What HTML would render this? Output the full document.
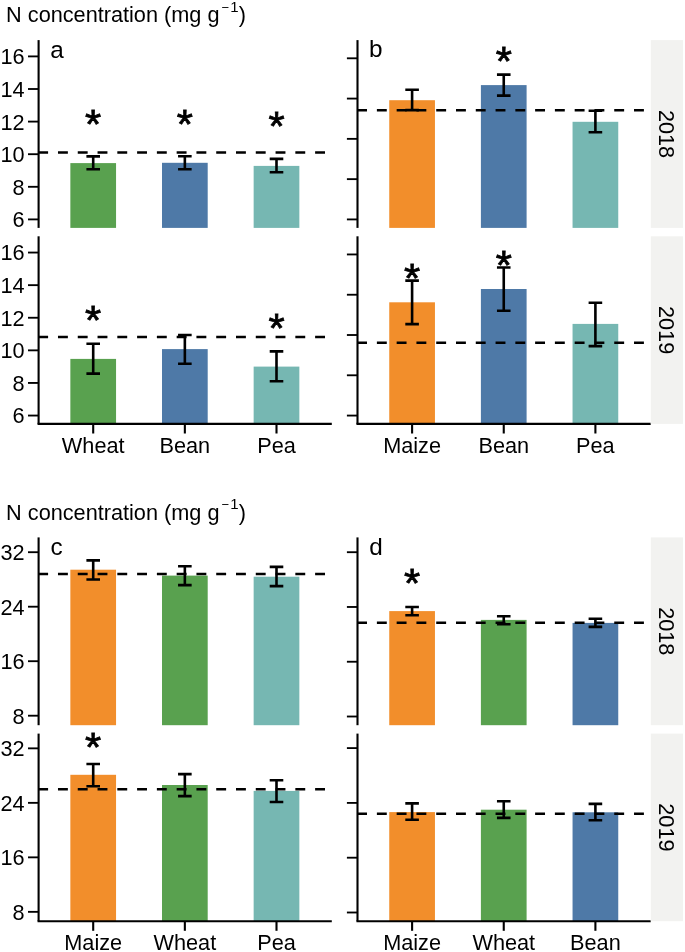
<!DOCTYPE html>
<html><head><meta charset="utf-8"><title>N concentration</title>
<style>
html,body{margin:0;padding:0;background:#fff}
svg{display:block}
text{font-family:"Liberation Sans", Arial, Helvetica, sans-serif;fill:#000}
</style></head><body>
<svg width="685" height="952" viewBox="0 0 685 952">
<rect width="685" height="952" fill="#fff"/>
<g>
<text x="6.1" y="22.4" font-size="21.7">N concentration (mg g<tspan x="221.4" y="11.8" font-size="13">−</tspan><tspan x="230.2" y="11.8" font-size="15">1</tspan><tspan x="238.7" y="22.4">)</tspan></text>
<rect x="70.35" y="163.1" width="45.7" height="64.8" fill="#59a14f"/>
<rect x="162" y="162.8" width="45.7" height="65.1" fill="#4e79a7"/>
<rect x="253.65" y="165.9" width="45.7" height="62" fill="#76b7b2"/>
<line x1="38.6" y1="152.4" x2="330.8" y2="152.4" stroke="#000" stroke-width="2.5" stroke-dasharray="9.89 9.89" stroke-dashoffset="0.4"/>
<path d="M86.4 156.4H100M93.2 156.4V169.3M86.4 169.3H100" stroke="#000" stroke-width="2.6" fill="none"/>
<path d="M178.05 156.2H191.65M184.85 156.2V169.2M178.05 169.2H191.65" stroke="#000" stroke-width="2.6" fill="none"/>
<path d="M269.7 158.9H283.3M276.5 158.9V172.2M269.7 172.2H283.3" stroke="#000" stroke-width="2.6" fill="none"/>
<line x1="38.6" y1="40.1" x2="38.6" y2="227.9" stroke="#000" stroke-width="2.1"/>
<line x1="28" y1="56.4" x2="38.6" y2="56.4" stroke="#000" stroke-width="1.85"/>
<text transform="translate(24.6 64.3) scale(1 1.035)" font-size="21.7" text-anchor="end">16</text>
<line x1="28" y1="89" x2="38.6" y2="89" stroke="#000" stroke-width="1.85"/>
<text transform="translate(24.6 96.9) scale(1 1.035)" font-size="21.7" text-anchor="end">14</text>
<line x1="28" y1="121.6" x2="38.6" y2="121.6" stroke="#000" stroke-width="1.85"/>
<text transform="translate(24.6 129.5) scale(1 1.035)" font-size="21.7" text-anchor="end">12</text>
<line x1="28" y1="154.2" x2="38.6" y2="154.2" stroke="#000" stroke-width="1.85"/>
<text transform="translate(24.6 162.1) scale(1 1.035)" font-size="21.7" text-anchor="end">10</text>
<line x1="28" y1="186.8" x2="38.6" y2="186.8" stroke="#000" stroke-width="1.85"/>
<text transform="translate(24.6 194.7) scale(1 1.035)" font-size="21.7" text-anchor="end">8</text>
<line x1="28" y1="219.4" x2="38.6" y2="219.4" stroke="#000" stroke-width="1.85"/>
<text transform="translate(24.6 227.3) scale(1 1.035)" font-size="21.7" text-anchor="end">6</text>
<text x="93.2" y="137.63" font-size="41.5" text-anchor="middle" stroke="#000" stroke-width="0.8">*</text>
<text x="184.85" y="137.63" font-size="41.5" text-anchor="middle" stroke="#000" stroke-width="0.8">*</text>
<text x="276.5" y="140.43" font-size="41.5" text-anchor="middle" stroke="#000" stroke-width="0.8">*</text>
<text x="50.3" y="57.6" font-size="24.3">a</text>
<rect x="389.25" y="100.2" width="45.7" height="127.7" fill="#f28e2b"/>
<rect x="480.9" y="85.1" width="45.7" height="142.8" fill="#4e79a7"/>
<rect x="572.55" y="121.8" width="45.7" height="106.1" fill="#76b7b2"/>
<line x1="357.5" y1="110.3" x2="649.7" y2="110.3" stroke="#000" stroke-width="2.5" stroke-dasharray="9.89 9.89" stroke-dashoffset="0.4"/>
<path d="M405.3 89.7H418.9M412.1 89.7V110.1M405.3 110.1H418.9" stroke="#000" stroke-width="2.6" fill="none"/>
<path d="M496.95 74.6H510.55M503.75 74.6V95.6M496.95 95.6H510.55" stroke="#000" stroke-width="2.6" fill="none"/>
<path d="M588.6 110.8H602.2M595.4 110.8V132.3M588.6 132.3H602.2" stroke="#000" stroke-width="2.6" fill="none"/>
<line x1="357.5" y1="40.1" x2="357.5" y2="227.9" stroke="#000" stroke-width="2.1"/>
<line x1="346.9" y1="58.3" x2="357.5" y2="58.3" stroke="#000" stroke-width="1.85"/>
<line x1="346.9" y1="98.58" x2="357.5" y2="98.58" stroke="#000" stroke-width="1.85"/>
<line x1="346.9" y1="138.86" x2="357.5" y2="138.86" stroke="#000" stroke-width="1.85"/>
<line x1="346.9" y1="179.14" x2="357.5" y2="179.14" stroke="#000" stroke-width="1.85"/>
<line x1="346.9" y1="219.42" x2="357.5" y2="219.42" stroke="#000" stroke-width="1.85"/>
<text x="503.75" y="75.44" font-size="41.5" text-anchor="middle" stroke="#000" stroke-width="0.8">*</text>
<text x="368.9" y="57.2" font-size="24.3">b</text>
<rect x="650.8" y="40.1" width="32.2" height="187.8" fill="#f2f2f0"/>
<text transform="translate(658.5 134) rotate(90)" font-size="21.7" text-anchor="middle">2018</text>
<rect x="70.35" y="358.9" width="45.7" height="65" fill="#59a14f"/>
<rect x="162" y="349.1" width="45.7" height="74.8" fill="#4e79a7"/>
<rect x="253.65" y="366.6" width="45.7" height="57.3" fill="#76b7b2"/>
<line x1="38.6" y1="337" x2="330.8" y2="337" stroke="#000" stroke-width="2.5" stroke-dasharray="9.89 9.89" stroke-dashoffset="0.4"/>
<path d="M86.4 343.7H100M93.2 343.7V373.6M86.4 373.6H100" stroke="#000" stroke-width="2.6" fill="none"/>
<path d="M178.05 335H191.65M184.85 335V363.8M178.05 363.8H191.65" stroke="#000" stroke-width="2.6" fill="none"/>
<path d="M269.7 351.4H283.3M276.5 351.4V381.3M269.7 381.3H283.3" stroke="#000" stroke-width="2.6" fill="none"/>
<line x1="38.6" y1="236.3" x2="38.6" y2="423.9" stroke="#000" stroke-width="2.1"/>
<line x1="28" y1="252.55" x2="38.6" y2="252.55" stroke="#000" stroke-width="1.85"/>
<text transform="translate(24.6 260.45) scale(1 1.035)" font-size="21.7" text-anchor="end">16</text>
<line x1="28" y1="285.15" x2="38.6" y2="285.15" stroke="#000" stroke-width="1.85"/>
<text transform="translate(24.6 293.05) scale(1 1.035)" font-size="21.7" text-anchor="end">14</text>
<line x1="28" y1="317.75" x2="38.6" y2="317.75" stroke="#000" stroke-width="1.85"/>
<text transform="translate(24.6 325.65) scale(1 1.035)" font-size="21.7" text-anchor="end">12</text>
<line x1="28" y1="350.35" x2="38.6" y2="350.35" stroke="#000" stroke-width="1.85"/>
<text transform="translate(24.6 358.25) scale(1 1.035)" font-size="21.7" text-anchor="end">10</text>
<line x1="28" y1="382.95" x2="38.6" y2="382.95" stroke="#000" stroke-width="1.85"/>
<text transform="translate(24.6 390.85) scale(1 1.035)" font-size="21.7" text-anchor="end">8</text>
<line x1="28" y1="415.55" x2="38.6" y2="415.55" stroke="#000" stroke-width="1.85"/>
<text transform="translate(24.6 423.45) scale(1 1.035)" font-size="21.7" text-anchor="end">6</text>
<text x="93.2" y="333.53" font-size="41.5" text-anchor="middle" stroke="#000" stroke-width="0.8">*</text>
<text x="276.5" y="341.83" font-size="41.5" text-anchor="middle" stroke="#000" stroke-width="0.8">*</text>
<line x1="37.55" y1="423.9" x2="331.8" y2="423.9" stroke="#000" stroke-width="2.1"/>
<line x1="93.2" y1="423.9" x2="93.2" y2="433.5" stroke="#000" stroke-width="2.1"/>
<text x="93.2" y="452.6" font-size="21.7" text-anchor="middle">Wheat</text>
<line x1="184.85" y1="423.9" x2="184.85" y2="433.5" stroke="#000" stroke-width="2.1"/>
<text x="184.85" y="452.6" font-size="21.7" text-anchor="middle">Bean</text>
<line x1="276.5" y1="423.9" x2="276.5" y2="433.5" stroke="#000" stroke-width="2.1"/>
<text x="276.5" y="452.6" font-size="21.7" text-anchor="middle">Pea</text>
<rect x="389.25" y="302.3" width="45.7" height="121.6" fill="#f28e2b"/>
<rect x="480.9" y="289" width="45.7" height="134.9" fill="#4e79a7"/>
<rect x="572.55" y="323.9" width="45.7" height="100" fill="#76b7b2"/>
<line x1="357.5" y1="342.7" x2="649.7" y2="342.7" stroke="#000" stroke-width="2.5" stroke-dasharray="9.89 9.89" stroke-dashoffset="0.4"/>
<path d="M405.3 280.6H418.9M412.1 280.6V324.1M405.3 324.1H418.9" stroke="#000" stroke-width="2.6" fill="none"/>
<path d="M496.95 267.5H510.55M503.75 267.5V310.7M496.95 310.7H510.55" stroke="#000" stroke-width="2.6" fill="none"/>
<path d="M588.6 302.7H602.2M595.4 302.7V346.1M588.6 346.1H602.2" stroke="#000" stroke-width="2.6" fill="none"/>
<line x1="357.5" y1="236.3" x2="357.5" y2="423.9" stroke="#000" stroke-width="2.1"/>
<line x1="346.9" y1="254.45" x2="357.5" y2="254.45" stroke="#000" stroke-width="1.85"/>
<line x1="346.9" y1="294.73" x2="357.5" y2="294.73" stroke="#000" stroke-width="1.85"/>
<line x1="346.9" y1="335.01" x2="357.5" y2="335.01" stroke="#000" stroke-width="1.85"/>
<line x1="346.9" y1="375.29" x2="357.5" y2="375.29" stroke="#000" stroke-width="1.85"/>
<line x1="346.9" y1="415.57" x2="357.5" y2="415.57" stroke="#000" stroke-width="1.85"/>
<text x="412.1" y="291.83" font-size="41.5" text-anchor="middle" stroke="#000" stroke-width="0.8">*</text>
<text x="503.75" y="279.03" font-size="41.5" text-anchor="middle" stroke="#000" stroke-width="0.8">*</text>
<line x1="356.45" y1="423.9" x2="650.7" y2="423.9" stroke="#000" stroke-width="2.1"/>
<line x1="412.1" y1="423.9" x2="412.1" y2="433.5" stroke="#000" stroke-width="2.1"/>
<text x="412.1" y="452.6" font-size="21.7" text-anchor="middle">Maize</text>
<line x1="503.75" y1="423.9" x2="503.75" y2="433.5" stroke="#000" stroke-width="2.1"/>
<text x="503.75" y="452.6" font-size="21.7" text-anchor="middle">Bean</text>
<line x1="595.4" y1="423.9" x2="595.4" y2="433.5" stroke="#000" stroke-width="2.1"/>
<text x="595.4" y="452.6" font-size="21.7" text-anchor="middle">Pea</text>
<rect x="650.8" y="236.3" width="32.2" height="187.6" fill="#f2f2f0"/>
<text transform="translate(658.5 330.1) rotate(90)" font-size="21.7" text-anchor="middle">2019</text>
</g>
<g transform="translate(0 497.3)">
<text x="6.1" y="22.4" font-size="21.7">N concentration (mg g<tspan x="221.4" y="11.8" font-size="13">−</tspan><tspan x="230.2" y="11.8" font-size="15">1</tspan><tspan x="238.7" y="22.4">)</tspan></text>
<rect x="70.35" y="72.4" width="45.7" height="155.5" fill="#f28e2b"/>
<rect x="162" y="78.3" width="45.7" height="149.6" fill="#59a14f"/>
<rect x="253.65" y="79.4" width="45.7" height="148.5" fill="#76b7b2"/>
<line x1="38.6" y1="76.7" x2="330.8" y2="76.7" stroke="#000" stroke-width="2.5" stroke-dasharray="9.89 9.89" stroke-dashoffset="0.4"/>
<path d="M86.4 63.1H100M93.2 63.1V82.2M86.4 82.2H100" stroke="#000" stroke-width="2.6" fill="none"/>
<path d="M178.05 68.9H191.65M184.85 68.9V87.8M178.05 87.8H191.65" stroke="#000" stroke-width="2.6" fill="none"/>
<path d="M269.7 69.6H283.3M276.5 69.6V88.8M269.7 88.8H283.3" stroke="#000" stroke-width="2.6" fill="none"/>
<line x1="38.6" y1="40.1" x2="38.6" y2="227.9" stroke="#000" stroke-width="2.1"/>
<line x1="28" y1="54.9" x2="38.6" y2="54.9" stroke="#000" stroke-width="1.85"/>
<text transform="translate(24.6 62.8) scale(1 1.035)" font-size="21.7" text-anchor="end">32</text>
<line x1="28" y1="109.4" x2="38.6" y2="109.4" stroke="#000" stroke-width="1.85"/>
<text transform="translate(24.6 117.3) scale(1 1.035)" font-size="21.7" text-anchor="end">24</text>
<line x1="28" y1="163.9" x2="38.6" y2="163.9" stroke="#000" stroke-width="1.85"/>
<text transform="translate(24.6 171.8) scale(1 1.035)" font-size="21.7" text-anchor="end">16</text>
<line x1="28" y1="218.4" x2="38.6" y2="218.4" stroke="#000" stroke-width="1.85"/>
<text transform="translate(24.6 226.3) scale(1 1.035)" font-size="21.7" text-anchor="end">8</text>
<text x="50.5" y="57.7" font-size="24.3">c</text>
<rect x="389.25" y="113.8" width="45.7" height="114.1" fill="#f28e2b"/>
<rect x="480.9" y="122.6" width="45.7" height="105.3" fill="#59a14f"/>
<rect x="572.55" y="125.6" width="45.7" height="102.3" fill="#4e79a7"/>
<line x1="357.5" y1="125.4" x2="649.7" y2="125.4" stroke="#000" stroke-width="2.5" stroke-dasharray="9.89 9.89" stroke-dashoffset="0.4"/>
<path d="M405.3 109.7H418.9M412.1 109.7V118M405.3 118H418.9" stroke="#000" stroke-width="2.6" fill="none"/>
<path d="M496.95 118.9H510.55M503.75 118.9V127M496.95 127H510.55" stroke="#000" stroke-width="2.6" fill="none"/>
<path d="M588.6 121.4H602.2M595.4 121.4V129.6M588.6 129.6H602.2" stroke="#000" stroke-width="2.6" fill="none"/>
<line x1="357.5" y1="40.1" x2="357.5" y2="227.9" stroke="#000" stroke-width="2.1"/>
<line x1="346.9" y1="54.9" x2="357.5" y2="54.9" stroke="#000" stroke-width="1.85"/>
<line x1="346.9" y1="109.67" x2="357.5" y2="109.67" stroke="#000" stroke-width="1.85"/>
<line x1="346.9" y1="164.44" x2="357.5" y2="164.44" stroke="#000" stroke-width="1.85"/>
<line x1="346.9" y1="219.21" x2="357.5" y2="219.21" stroke="#000" stroke-width="1.85"/>
<text x="412.1" y="99.64" font-size="41.5" text-anchor="middle" stroke="#000" stroke-width="0.8">*</text>
<text x="369.3" y="57.7" font-size="24.3">d</text>
<rect x="650.8" y="40.1" width="32.2" height="187.8" fill="#f2f2f0"/>
<text transform="translate(658.5 134) rotate(90)" font-size="21.7" text-anchor="middle">2018</text>
<rect x="70.35" y="277.5" width="45.7" height="146.4" fill="#f28e2b"/>
<rect x="162" y="287.7" width="45.7" height="136.2" fill="#59a14f"/>
<rect x="253.65" y="293.6" width="45.7" height="130.3" fill="#76b7b2"/>
<line x1="38.6" y1="291.9" x2="330.8" y2="291.9" stroke="#000" stroke-width="2.5" stroke-dasharray="9.89 9.89" stroke-dashoffset="0.4"/>
<path d="M86.4 266.7H100M93.2 266.7V288.9M86.4 288.9H100" stroke="#000" stroke-width="2.6" fill="none"/>
<path d="M178.05 276.8H191.65M184.85 276.8V298.8M178.05 298.8H191.65" stroke="#000" stroke-width="2.6" fill="none"/>
<path d="M269.7 283H283.3M276.5 283V304.7M269.7 304.7H283.3" stroke="#000" stroke-width="2.6" fill="none"/>
<line x1="38.6" y1="236.3" x2="38.6" y2="423.9" stroke="#000" stroke-width="2.1"/>
<line x1="28" y1="251.05" x2="38.6" y2="251.05" stroke="#000" stroke-width="1.85"/>
<text transform="translate(24.6 258.95) scale(1 1.035)" font-size="21.7" text-anchor="end">32</text>
<line x1="28" y1="305.55" x2="38.6" y2="305.55" stroke="#000" stroke-width="1.85"/>
<text transform="translate(24.6 313.45) scale(1 1.035)" font-size="21.7" text-anchor="end">24</text>
<line x1="28" y1="360.05" x2="38.6" y2="360.05" stroke="#000" stroke-width="1.85"/>
<text transform="translate(24.6 367.95) scale(1 1.035)" font-size="21.7" text-anchor="end">16</text>
<line x1="28" y1="414.55" x2="38.6" y2="414.55" stroke="#000" stroke-width="1.85"/>
<text transform="translate(24.6 422.45) scale(1 1.035)" font-size="21.7" text-anchor="end">8</text>
<text x="93.2" y="263.74" font-size="41.5" text-anchor="middle" stroke="#000" stroke-width="0.8">*</text>
<line x1="37.55" y1="423.9" x2="331.8" y2="423.9" stroke="#000" stroke-width="2.1"/>
<line x1="93.2" y1="423.9" x2="93.2" y2="433.5" stroke="#000" stroke-width="2.1"/>
<text x="93.2" y="452.6" font-size="21.7" text-anchor="middle">Maize</text>
<line x1="184.85" y1="423.9" x2="184.85" y2="433.5" stroke="#000" stroke-width="2.1"/>
<text x="184.85" y="452.6" font-size="21.7" text-anchor="middle">Wheat</text>
<line x1="276.5" y1="423.9" x2="276.5" y2="433.5" stroke="#000" stroke-width="2.1"/>
<text x="276.5" y="452.6" font-size="21.7" text-anchor="middle">Pea</text>
<rect x="389.25" y="314.8" width="45.7" height="109.1" fill="#f28e2b"/>
<rect x="480.9" y="312.4" width="45.7" height="111.5" fill="#59a14f"/>
<rect x="572.55" y="315" width="45.7" height="108.9" fill="#4e79a7"/>
<line x1="357.5" y1="316.5" x2="649.7" y2="316.5" stroke="#000" stroke-width="2.5" stroke-dasharray="9.89 9.89" stroke-dashoffset="0.4"/>
<path d="M405.3 306.1H418.9M412.1 306.1V322.5M405.3 322.5H418.9" stroke="#000" stroke-width="2.6" fill="none"/>
<path d="M496.95 304H510.55M503.75 304V320.6M496.95 320.6H510.55" stroke="#000" stroke-width="2.6" fill="none"/>
<path d="M588.6 306.6H602.2M595.4 306.6V322.9M588.6 322.9H602.2" stroke="#000" stroke-width="2.6" fill="none"/>
<line x1="357.5" y1="236.3" x2="357.5" y2="423.9" stroke="#000" stroke-width="2.1"/>
<line x1="346.9" y1="250.8" x2="357.5" y2="250.8" stroke="#000" stroke-width="1.85"/>
<line x1="346.9" y1="305.6" x2="357.5" y2="305.6" stroke="#000" stroke-width="1.85"/>
<line x1="346.9" y1="360.4" x2="357.5" y2="360.4" stroke="#000" stroke-width="1.85"/>
<line x1="346.9" y1="415.2" x2="357.5" y2="415.2" stroke="#000" stroke-width="1.85"/>
<line x1="356.45" y1="423.9" x2="650.7" y2="423.9" stroke="#000" stroke-width="2.1"/>
<line x1="412.1" y1="423.9" x2="412.1" y2="433.5" stroke="#000" stroke-width="2.1"/>
<text x="412.1" y="452.6" font-size="21.7" text-anchor="middle">Maize</text>
<line x1="503.75" y1="423.9" x2="503.75" y2="433.5" stroke="#000" stroke-width="2.1"/>
<text x="503.75" y="452.6" font-size="21.7" text-anchor="middle">Wheat</text>
<line x1="595.4" y1="423.9" x2="595.4" y2="433.5" stroke="#000" stroke-width="2.1"/>
<text x="595.4" y="452.6" font-size="21.7" text-anchor="middle">Bean</text>
<rect x="650.8" y="236.3" width="32.2" height="187.6" fill="#f2f2f0"/>
<text transform="translate(658.5 330.1) rotate(90)" font-size="21.7" text-anchor="middle">2019</text>
</g>
</svg>
</body></html>
